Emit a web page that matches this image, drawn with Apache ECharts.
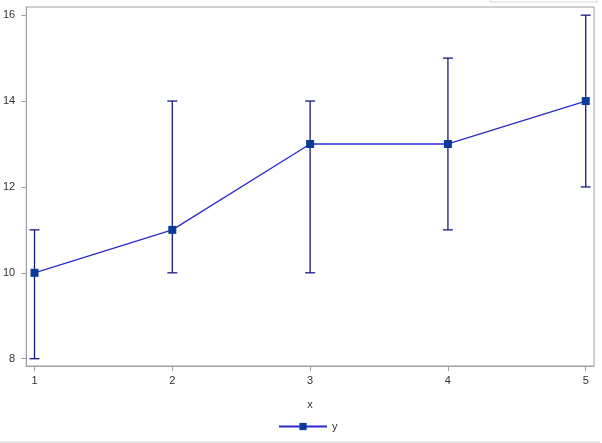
<!DOCTYPE html>
<html>
<head>
<meta charset="utf-8">
<script src="https://cdn.jsdelivr.net/npm/echarts@6/dist/echarts.min.js"></script>
<style>
html,body{margin:0;padding:0;background:#fff;}
#c{width:602px;height:443px;}
</style>
</head>
<body>
<div id="c"></div>
<script>
var xValues = [1, 2, 3, 4, 5];
var yValues = [10, 11, 13, 13, 14];
var lowerValues = [8, 10, 10, 11, 12];
var upperValues = [11, 14, 14, 15, 16];
var xTicks = [1, 2, 3, 4, 5];
var yTicks = [8, 10, 12, 14, 16];

var lineData = xValues.map(function (x, i) { return [x, yValues[i]]; });
var errData = xValues.map(function (x, i) { return [x, lowerValues[i], upperValues[i]]; });

var chart = echarts.init(document.getElementById('c'), null, {renderer: 'canvas'});
var font = 'Liberation Sans, Arial, sans-serif';
chart.setOption({
  animation: false,
  backgroundColor: '#fff',
  grid: {left: 25, right: 8, top: 7, bottom: 77, show: true, borderColor: '#a0a0a0', borderWidth: 1},
  xAxis: {
    type: 'value', min: 0.94, max: 5.06,
    name: 'x', nameLocation: 'middle', nameGap: 33,
    nameTextStyle: {color: '#333', fontSize: 11, fontFamily: font},
    splitLine: {show: false},
    axisLine: {show: true, lineStyle: {color: '#a0a0a0'}},
    axisTick: {show: true, length: 5, lineStyle: {color: '#a0a0a0'}, customValues: xTicks},
    axisLabel: {color: '#333', fontSize: 11, fontFamily: font, margin: 9, customValues: xTicks}
  },
  yAxis: {
    type: 'value', min: 7.83, max: 16.19,
    splitLine: {show: false},
    axisLine: {show: true, lineStyle: {color: '#a0a0a0'}},
    axisTick: {show: true, length: 5, lineStyle: {color: '#a0a0a0'}, customValues: yTicks},
    axisLabel: {color: '#333', fontSize: 11, fontFamily: font, margin: 11, customValues: yTicks}
  },
  legend: {
    top: 416, left: 273,
    itemWidth: 48, itemHeight: 9, itemGap: 5,
    textStyle: {color: '#333', fontSize: 11, fontFamily: font},
    data: ['y']
  },
  graphic: [
    {type: 'line', shape: {x1: 0, y1: 442, x2: 600, y2: 442}, style: {stroke: '#cfcfcf', lineWidth: 1}},
    {type: 'polyline', shape: {points: [[490, 0], [490, 2], [597, 2], [597, 0]]}, style: {stroke: '#d8d8d8', lineWidth: 1, fill: null}}
  ],
  series: [
    {
      type: 'custom',
      name: 'err',
      data: errData,
      z: 2,
      renderItem: function (params, api) {
        var x = api.value(0);
        var lo = api.coord([x, api.value(1)]);
        var hi = api.coord([x, api.value(2)]);
        var hw = 5;
        var st = {stroke: '#1a1a80', lineWidth: 1.3};
        return {
          type: 'group',
          children: [
            {type: 'line', shape: {x1: lo[0], y1: lo[1], x2: hi[0], y2: hi[1]}, style: st},
            {type: 'line', shape: {x1: lo[0] - hw, y1: lo[1], x2: lo[0] + hw, y2: lo[1]}, style: st},
            {type: 'line', shape: {x1: hi[0] - hw, y1: hi[1], x2: hi[0] + hw, y2: hi[1]}, style: st}
          ]
        };
      }
    },
    {
      type: 'line',
      name: 'y',
      data: lineData,
      z: 3,
      symbol: 'rect',
      symbolSize: 8,
      lineStyle: {color: '#2b2bcc', width: 1.3},
      itemStyle: {color: '#0b3a9a', borderWidth: 0}
    }
  ]
});
</script>
</body>
</html>
